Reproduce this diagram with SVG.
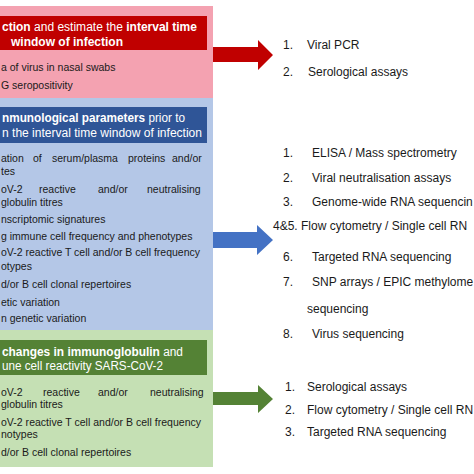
<svg xmlns="http://www.w3.org/2000/svg" width="474" height="474" viewBox="0 0 474 474">
<style>
text{font-family:"Liberation Sans",Arial,sans-serif;}
.hd{font-size:12px;fill:#ffffff;}
.b{font-weight:bold;}
.it{font-size:10.5px;fill:#1a1a1a;}
.rl{font-size:12px;fill:#1a1a1a;}
</style>
<rect width="474" height="474" fill="#ffffff"/>
<g id="detect-infection">
<rect x="0" y="6" width="213" height="92" fill="#f4a2b1"/>
<rect x="0" y="16" width="207" height="34" fill="#c00000"/>
<text class="hd" x="2" y="31" textLength="195" lengthAdjust="spacingAndGlyphs"><tspan class="b">ction</tspan> and estimate the <tspan class="b">interval time</tspan></text>
<text class="hd b" x="67" y="46" text-anchor="middle">window of infection</text>
<text class="it" x="1" y="71">a of virus in nasal swabs</text>
<text class="it" x="1" y="89">G seropositivity</text>
</g>
<g id="immunological-parameters">
<rect x="0" y="98" width="213" height="232" fill="#b4c7e7"/>
<rect x="0" y="107" width="207" height="36" fill="#2f5597"/>
<text class="hd" x="2" y="122" textLength="183" lengthAdjust="spacingAndGlyphs"><tspan class="b">nmunological parameters</tspan> prior to</text>
<text class="hd" x="2" y="137" textLength="200" lengthAdjust="spacingAndGlyphs">n the interval time window of infection</text>
<text class="it" y="162"><tspan x="1">ation</tspan><tspan x="33">of</tspan><tspan x="52">serum/plasma</tspan><tspan x="128">proteins</tspan><tspan x="172">and/or</tspan></text>
<text class="it" x="1" y="175">tes</text>
<text class="it" y="193"><tspan x="1">oV-2</tspan><tspan x="39">reactive</tspan><tspan x="98">and/or</tspan><tspan x="147">neutralising</tspan></text>
<text class="it" x="1" y="206">globulin titres</text>
<text class="it" x="1" y="223">nscriptomic signatures</text>
<text class="it" x="1" y="240">g immune cell frequency and phenotypes</text>
<text class="it" x="1" y="256" textLength="199" lengthAdjust="spacing">oV-2 reactive T cell and/or B cell frequency</text>
<text class="it" x="1" y="270">otypes</text>
<text class="it" x="1" y="288">d/or B cell clonal repertoires</text>
<text class="it" x="1" y="306">etic variation</text>
<text class="it" x="1" y="322">n genetic variation</text>
</g>
<g id="immunoglobulin-changes">
<rect x="0" y="330" width="213" height="137" fill="#c5e0b4"/>
<rect x="0" y="340" width="207" height="35" fill="#548235"/>
<text class="hd" x="2" y="356" textLength="181" lengthAdjust="spacingAndGlyphs"><tspan class="b">changes in immunoglobulin</tspan> and</text>
<text class="hd" x="2" y="370" textLength="161" lengthAdjust="spacingAndGlyphs">une cell reactivity SARS-CoV-2</text>
<text class="it" y="396"><tspan x="1">oV-2</tspan><tspan x="43">reactive</tspan><tspan x="98">and/or</tspan><tspan x="150">neutralising</tspan></text>
<text class="it" x="1" y="408">globulin titres</text>
<text class="it" x="1" y="426" textLength="200" lengthAdjust="spacing">oV-2 reactive T cell and/or B cell frequency</text>
<text class="it" x="1" y="438">notypes</text>
<text class="it" x="1" y="456">d/or B cell clonal repertoires</text>
</g>
<g id="connectors">
<polygon points="213,47 258,47 258,40 273,55 258,70 258,62 213,62" fill="#c00000"/>
<polygon points="213,232 257,232 257,225 273,240 257,255 257,248 213,248" fill="#4472c4"/>
<polygon points="213,392 258,392 258,385 273,399 258,413 258,405 213,405" fill="#548235"/>
</g>
<g id="methods-infection">
<text class="rl" x="283" y="49">1.</text><text class="rl" x="307" y="49">Viral PCR</text>
<text class="rl" x="283" y="76">2.</text><text class="rl" x="308" y="76">Serological assays</text>
</g>
<g id="methods-immunological">
<text class="rl" x="283" y="157">1.</text><text class="rl" x="312" y="157">ELISA / Mass spectrometry</text>
<text class="rl" x="283" y="182">2.</text><text class="rl" x="312" y="182">Viral neutralisation assays</text>
<text class="rl" x="283" y="206">3.</text><text class="rl" x="312" y="206">Genome-wide RNA sequencin</text>
<text class="rl" x="273" y="230">4&amp;5. Flow cytometry / Single cell RN</text>
<text class="rl" x="283" y="261">6.</text><text class="rl" x="312" y="261">Targeted RNA sequencing</text>
<text class="rl" x="283" y="286">7.</text><text class="rl" x="312" y="286">SNP arrays / EPIC methylome</text>
<text class="rl" x="307" y="313">sequencing</text>
<text class="rl" x="283" y="338">8.</text><text class="rl" x="312" y="338">Virus sequencing</text>
</g>
<g id="methods-changes">
<text class="rl" x="285" y="391">1.</text><text class="rl" x="307" y="391">Serological assays</text>
<text class="rl" x="285" y="414">2.</text><text class="rl" x="307" y="414">Flow cytometry / Single cell RN</text>
<text class="rl" x="285" y="436">3.</text><text class="rl" x="307" y="436">Targeted RNA sequencing</text>
</g>
</svg>
